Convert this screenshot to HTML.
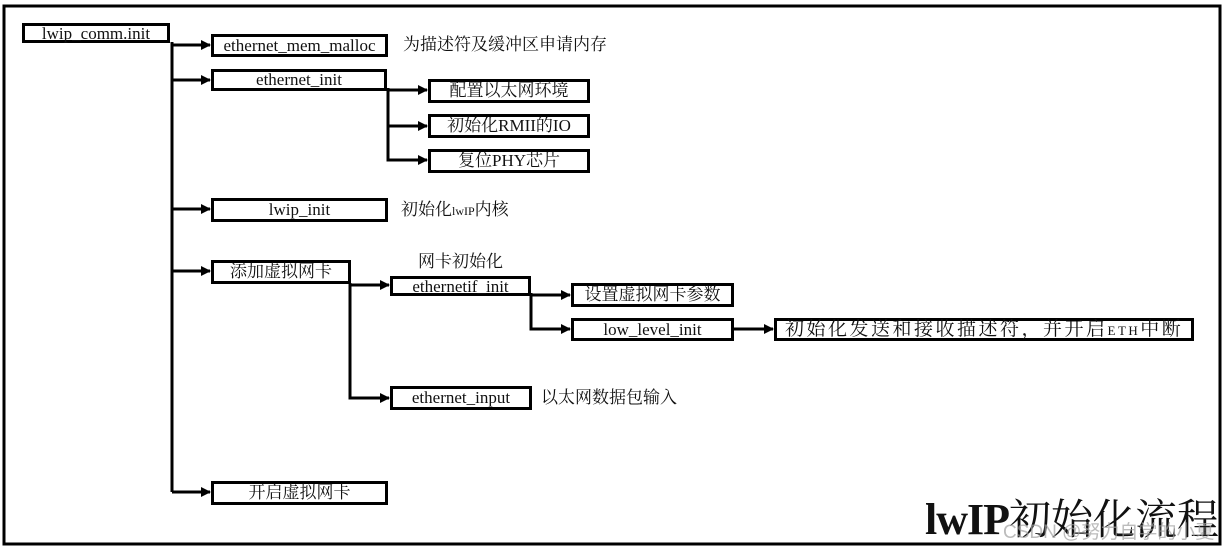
<!DOCTYPE html>
<html><head><meta charset="utf-8"><style>
body{margin:0;width:1228px;height:553px;background:#fff;position:relative;overflow:hidden;font-family:"Liberation Serif","Noto Serif CJK SC",serif;color:#111}
.b{position:absolute;border:3px solid #000;box-sizing:border-box;font-size:17px;text-align:center;line-height:15px;white-space:nowrap;background:#fff}
.t{position:absolute;font-size:17px;white-space:nowrap;line-height:18px}
svg{position:absolute;left:0;top:0}
</style></head><body>
<svg width="1228" height="553">
<defs><marker id="a" markerWidth="10" markerHeight="10" refX="9" refY="5" orient="auto" markerUnits="userSpaceOnUse"><path d="M0,0 L10,5 L0,10 z" fill="#000"/></marker></defs>
<rect x="4" y="6" width="1216" height="538" fill="none" stroke="#000" stroke-width="3"/>
<g stroke="#000" stroke-width="3" fill="none">
<path d="M172 42 V492"/>
<path d="M172 45 H210" marker-end="url(#a)"/>
<path d="M172 80 H210" marker-end="url(#a)"/>
<path d="M172 209 H210" marker-end="url(#a)"/>
<path d="M172 271 H210" marker-end="url(#a)"/>
<path d="M172 492 H210" marker-end="url(#a)"/>
<path d="M387 90 H427" marker-end="url(#a)"/>
<path d="M388 88 V160 H427" marker-end="url(#a)"/>
<path d="M388 126 H427" marker-end="url(#a)"/>
<path d="M351 285 H389" marker-end="url(#a)"/>
<path d="M350 283 V398 H389" marker-end="url(#a)"/>
<path d="M530 295 H570" marker-end="url(#a)"/>
<path d="M531 293 V329 H570" marker-end="url(#a)"/>
<path d="M734 329 H773" marker-end="url(#a)"/>
</g>
</svg>
<div class="b" style="left:22px;top:23px;width:148px;height:20px">lwip_comm.init</div>
<div class="b" style="left:211px;top:34px;width:177px;height:23px;line-height:17px">ethernet_mem_malloc</div>
<div class="t" style="left:403px;top:36px">为描述符及缓冲区申请内存</div>
<div class="b" style="left:211px;top:69px;width:176px;height:22px">ethernet_init</div>
<div class="b" style="left:428px;top:79px;width:162px;height:24px;line-height:18px">配置以太网环境</div>
<div class="b" style="left:428px;top:114px;width:162px;height:24px;line-height:18px">初始化RMII的IO</div>
<div class="b" style="left:428px;top:149px;width:162px;height:24px;line-height:18px">复位PHY芯片</div>
<div class="b" style="left:211px;top:198px;width:177px;height:24px;line-height:18px">lwip_init</div>
<div class="t" style="left:401px;top:201px">初始化<span style="font-size:12px">lwIP</span>内核</div>
<div class="b" style="left:211px;top:260px;width:140px;height:24px;line-height:18px">添加虚拟网卡</div>
<div class="t" style="left:418px;top:253px">网卡初始化</div>
<div class="b" style="left:390px;top:276px;width:141px;height:20px">ethernetif_init</div>
<div class="b" style="left:571px;top:283px;width:163px;height:24px;line-height:18px">设置虚拟网卡参数</div>
<div class="b" style="left:571px;top:318px;width:163px;height:23px;line-height:17px">low_level_init</div>
<div class="b" style="left:774px;top:318px;width:420px;height:23px;line-height:17px;font-size:19px;letter-spacing:2.5px;text-align:left;padding-left:8px">初始化发送和接收描述符，并开启<span style="font-size:13px">ETH</span>中断</div>
<div class="b" style="left:390px;top:386px;width:142px;height:24px;line-height:18px">ethernet_input</div>
<div class="t" style="left:541px;top:389px">以太网数据包输入</div>
<div class="b" style="left:211px;top:481px;width:177px;height:24px;line-height:18px">开启虚拟网卡</div>
<div class="t" style="left:925px;top:496px;font-size:44px;line-height:48px;font-weight:bold;letter-spacing:-1px">lwIP<span style="font-weight:normal;font-size:42px;letter-spacing:0">初始化流程</span></div>
<div class="t" style="left:1003px;top:524px;font-size:19px;color:rgba(160,160,160,0.7);font-family:'Liberation Sans','Noto Sans CJK SC',sans-serif">CSDN @努力自学的小夏</div>
</body></html>
